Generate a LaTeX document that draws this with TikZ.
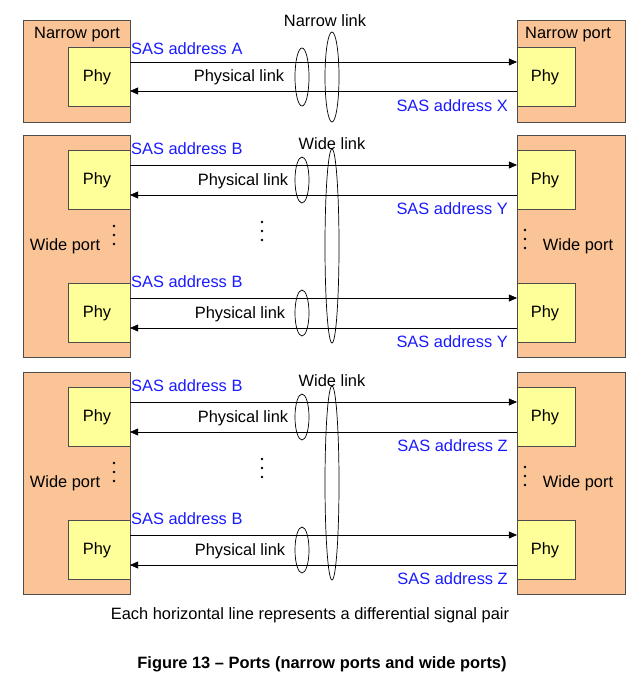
\documentclass[tikz,border=0pt]{standalone}
\usepackage{fontspec}
\setmainfont{Liberation Sans}
\usetikzlibrary{arrows.meta}
\definecolor{portfill}{HTML}{FAC496}
\definecolor{phyfill}{HTML}{FFFF99}
\definecolor{sasblue}{HTML}{1A1AFF}

\tikzset{
  port/.style={draw=black!70,fill=portfill,line width=0.6pt},
  phy/.style={draw=black!70,fill=phyfill,line width=0.6pt},
  txt/.style={inner sep=0pt,font=\fontsize{14}{16}\selectfont},
  sas/.style={txt,text=sasblue},
  wire/.style={line width=0.6pt,-{Triangle[length=7pt,width=6pt]}},
  loop/.style={line width=0.6pt},
  vdots/.style={fill=black,circle,inner sep=0pt,minimum size=2.2pt}
}

\begin{document}
\begin{tikzpicture}[x=0.03cm,y=-0.03cm]
  \useasboundingbox (0,0) rectangle (635,678);

  % narrow ports
  \filldraw[port] (23,20) rectangle (130,122);
  \filldraw[port] (517,20) rectangle (625,122);
  \filldraw[phy] (68,47) rectangle (130,106);
  \filldraw[phy] (517,47) rectangle (575,106);
  \node[txt] (nportL) at (77,35) {Narrow port};
  \node[txt] (nportR) at (568,35) {Narrow port};
  \node[txt] (nphyL) at (97,77) {Phy};
  \node[txt] (nphyR) at (545,77) {Phy};
  \coordinate (nL1) at (130,62); \coordinate (nR1) at (517,62);
  \coordinate (nL2) at (130,91); \coordinate (nR2) at (517,91);
  \draw[wire] (nL1) -- (nR1);
  \draw[wire] (nR2) -- (nL2);
  \draw[loop] (302,77) ellipse (7 and 29);
  \draw[loop] (332,77) ellipse (7 and 45);
  \node[txt] (nlink) at (325,21) {Narrow link};
  \node[txt] (nphys) at (239,77) {Physical link};
  \node[sas,anchor=west] (sasA) at (131,49) {SAS address A};
  \node[sas,anchor=east] (sasX) at (508,106) {SAS address X};

  % wide ports
  \foreach \dy/\addr in {0/Y,237/Z}{
    \begin{scope}[yshift=-\dy*0.03cm]
      \filldraw[port] (23,135) rectangle (130,357);
      \filldraw[port] (517,135) rectangle (625,357);
      \foreach \py in {150,283}{
        \filldraw[phy] (68,\py) rectangle (130,\py+59);
        \filldraw[phy] (517,\py) rectangle (575,\py+59);
        \node[txt] (wphyL) at (97,\py+30) {Phy};
        \node[txt] (wphyR) at (545,\py+30) {Phy};
        \coordinate (wL1) at (130,\py+15); \coordinate (wR1) at (517,\py+15);
        \coordinate (wL2) at (130,\py+45); \coordinate (wR2) at (517,\py+45);
        \draw[wire] (wL1) -- (wR1);
        \draw[wire] (wR2) -- (wL2);
        \draw[loop] (302,\py+30) ellipse (7 and 23);
        \node[sas,anchor=west] (sasB) at (131,\py-1) {SAS address B};
        \node[sas,anchor=east] (sasYZ) at (508,\py+59) {SAS address \addr};
      }
      \draw[loop] (332,246) ellipse (7 and 97);
      \node[txt] (wlink) at (332,144) {Wide link};
      \node[txt] (wphys1) at (243,181) {Physical link};
      \node[txt] (wphys2) at (240,314) {Physical link};
      \node[txt] (wportL) at (65,246) {Wide port};
      \node[txt] (wportR) at (578,246) {Wide port};
      \foreach \x/\y in {262/222,114/226,525/230}{
        \node[vdots] at (\x,\y) {};
        \node[vdots] at (\x,\y+9) {};
        \node[vdots] at (\x,\y+18) {};
      }
    \end{scope}
  }

  % caption
  \node[txt] (note) at (310,615) {Each horizontal line represents a differential signal pair};
  \node[txt,font=\fontsize{14}{16}\selectfont\bfseries] (title) at (322,664) {Figure 13 -- Ports (narrow ports and wide ports)};
\end{tikzpicture}
\end{document}
